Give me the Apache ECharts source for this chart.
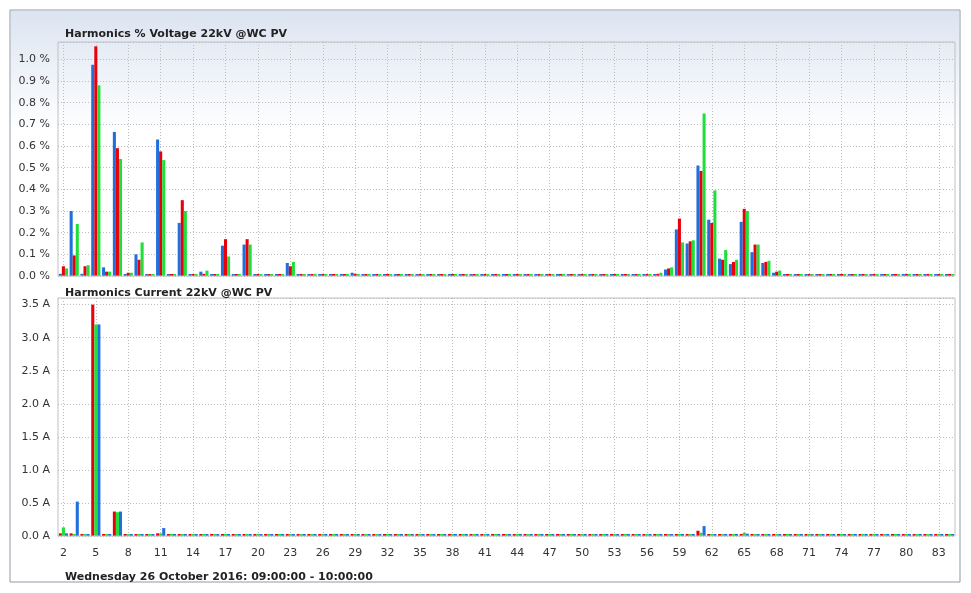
<!DOCTYPE html>
<html>
<head>
<meta charset="utf-8">
<script src="https://cdn.jsdelivr.net/npm/echarts@6/dist/echarts.min.js"></script>
<style>
  html, body { margin: 0; padding: 0; background: #fff; }
  #chart { width: 971px; height: 593px; }
</style>
</head>
<body>
<div id="chart"></div>
<script>
// harmonic orders 2..84
const orders = [];
for (let h = 2; h <= 84; h++) orders.push(String(h));

// voltage harmonics (%), keyed by order; rest are 0
const voltBlue = { 2: 0.01, 3: 0.30, 4: 0.01, 5: 0.975, 6: 0.04, 7: 0.665, 8: 0.005, 9: 0.10, 11: 0.63, 13: 0.245, 15: 0.02, 17: 0.14, 19: 0.145, 23: 0.06, 25: 0.005, 29: 0.015,
  56: 0.005, 57: 0.005, 58: 0.03, 59: 0.215, 60: 0.15, 61: 0.51, 62: 0.26, 63: 0.08, 64: 0.055, 65: 0.25, 66: 0.11, 67: 0.06, 68: 0.015, 69: 0.005 };
const voltRed = { 2: 0.045, 3: 0.095, 4: 0.045, 5: 1.06, 6: 0.02, 7: 0.59, 8: 0.015, 9: 0.075, 11: 0.575, 13: 0.35, 15: 0.01, 17: 0.17, 19: 0.17, 23: 0.045, 25: 0.005, 29: 0.01,
  56: 0.005, 57: 0.01, 58: 0.035, 59: 0.265, 60: 0.16, 61: 0.485, 62: 0.245, 63: 0.075, 64: 0.065, 65: 0.31, 66: 0.145, 67: 0.065, 68: 0.02, 69: 0.005 };
const voltGreen = { 2: 0.035, 3: 0.24, 4: 0.05, 5: 0.88, 6: 0.02, 7: 0.54, 8: 0.015, 9: 0.155, 11: 0.535, 13: 0.30, 15: 0.025, 17: 0.09, 19: 0.145, 23: 0.065, 25: 0.01, 29: 0.005,
  56: 0.005, 57: 0.015, 58: 0.04, 59: 0.155, 60: 0.165, 61: 0.75, 62: 0.395, 63: 0.12, 64: 0.075, 65: 0.30, 66: 0.145, 67: 0.07, 68: 0.025, 69: 0.005 };

// current harmonics (A)
const currRed = { 2: 0.04, 3: 0.04, 4: 0.01, 5: 3.5, 7: 0.37, 11: 0.04, 61: 0.08, 65: 0.03 };
const currGreen = { 2: 0.13, 3: 0.02, 4: 0.02, 5: 3.2, 7: 0.36, 11: 0.04, 61: 0.05, 65: 0.05 };
const currBlue = { 2: 0.04, 3: 0.52, 4: 0.02, 5: 3.2, 7: 0.37, 11: 0.12, 61: 0.15, 65: 0.035 };

const full = m => orders.map(o => m[o] || 0);

const BLUE = '#1f6fdc', RED = '#e8000b', GREEN = '#1fe03a';
const font = 'DejaVu Sans';
const dotLine = { color: '#bdbdbd', type: [1, 2], width: 1 };

function catAxis(i, showLabels) {
  return {
    type: 'category', gridIndex: i, data: orders, boundaryGap: true,
    axisLine: { show: false }, axisTick: { show: false, alignWithLabel: true, interval: 2 },
    axisLabel: { show: showLabels, interval: 2, color: '#333', fontFamily: font, fontSize: 11, margin: 12 },
    splitLine: { show: true, interval: 2, alignWithLabel: true, lineStyle: dotLine }
  };
}
function barSeries(name, data, color, xi, yi) {
  return {
    name, type: 'bar', data, xAxisIndex: xi, yAxisIndex: yi,
    itemStyle: { color }, barGap: '0%', barCategoryGap: '15%', barMinHeight: 2,
    silent: true
  };
}

const chart = echarts.init(document.getElementById('chart'));
chart.setOption({
  animation: false,
  backgroundColor: '#fff',
  graphic: [
    { type: 'rect', shape: { x: 10, y: 10, width: 950, height: 572 }, style: { fill: 'none', stroke: '#8f9aa8', lineWidth: 1 }, z: -10 },
    { type: 'rect', shape: { x: 11, y: 11, width: 948, height: 120 },
      style: { fill: new echarts.graphic.LinearGradient(0, 0, 0, 1, [{ offset: 0, color: '#dce4f1' }, { offset: 1, color: '#ffffff' }]) }, z: -9 },
    { type: 'rect', shape: { x: 58, y: 42, width: 897, height: 234 }, style: { fill: 'none', stroke: '#c0c0c0', lineWidth: 1 }, z: 5 },
    { type: 'rect', shape: { x: 58, y: 298, width: 897, height: 238 }, style: { fill: 'none', stroke: '#c0c0c0', lineWidth: 1 }, z: 5 }
  ],
  title: [
    { text: 'Harmonics % Voltage 22kV @WC PV', left: 60, top: 24, textStyle: { fontFamily: font, fontSize: 11, fontWeight: 'bold', color: '#222' } },
    { text: 'Harmonics Current 22kV @WC PV', left: 60, top: 283, textStyle: { fontFamily: font, fontSize: 11, fontWeight: 'bold', color: '#222' } },
    { text: 'Wednesday 26 October 2016: 09:00:00 - 10:00:00', left: 60, top: 567, textStyle: { fontFamily: font, fontSize: 11, fontWeight: 'bold', color: '#222' } }
  ],
  grid: [
    { left: 58, right: 16, top: 42, height: 234 },
    { left: 58, right: 16, top: 298, height: 238 }
  ],
  xAxis: [catAxis(0, false), catAxis(1, true)],
  yAxis: [
    { type: 'value', gridIndex: 0, min: 0, max: 1.08, interval: 0.1,
      axisLine: { show: false }, axisTick: { show: false },
      axisLabel: { showMaxLabel: false, color: '#333', fontFamily: font, fontSize: 11, formatter: v => v.toFixed(1) + ' %' },
      splitLine: { show: true, lineStyle: dotLine } },
    { type: 'value', gridIndex: 1, min: 0, max: 3.6, interval: 0.5,
      axisLine: { show: false }, axisTick: { show: false },
      axisLabel: { showMaxLabel: false, color: '#333', fontFamily: font, fontSize: 11, formatter: v => v.toFixed(1) + ' A' },
      splitLine: { show: true, lineStyle: dotLine } }
  ],
  series: [
    barSeries('Blue', full(voltBlue), BLUE, 0, 0),
    barSeries('Red', full(voltRed), RED, 0, 0),
    barSeries('Green', full(voltGreen), GREEN, 0, 0),
    barSeries('Red', full(currRed), RED, 1, 1),
    barSeries('Green', full(currGreen), GREEN, 1, 1),
    barSeries('Blue', full(currBlue), BLUE, 1, 1)
  ]
});
</script>
</body>
</html>
